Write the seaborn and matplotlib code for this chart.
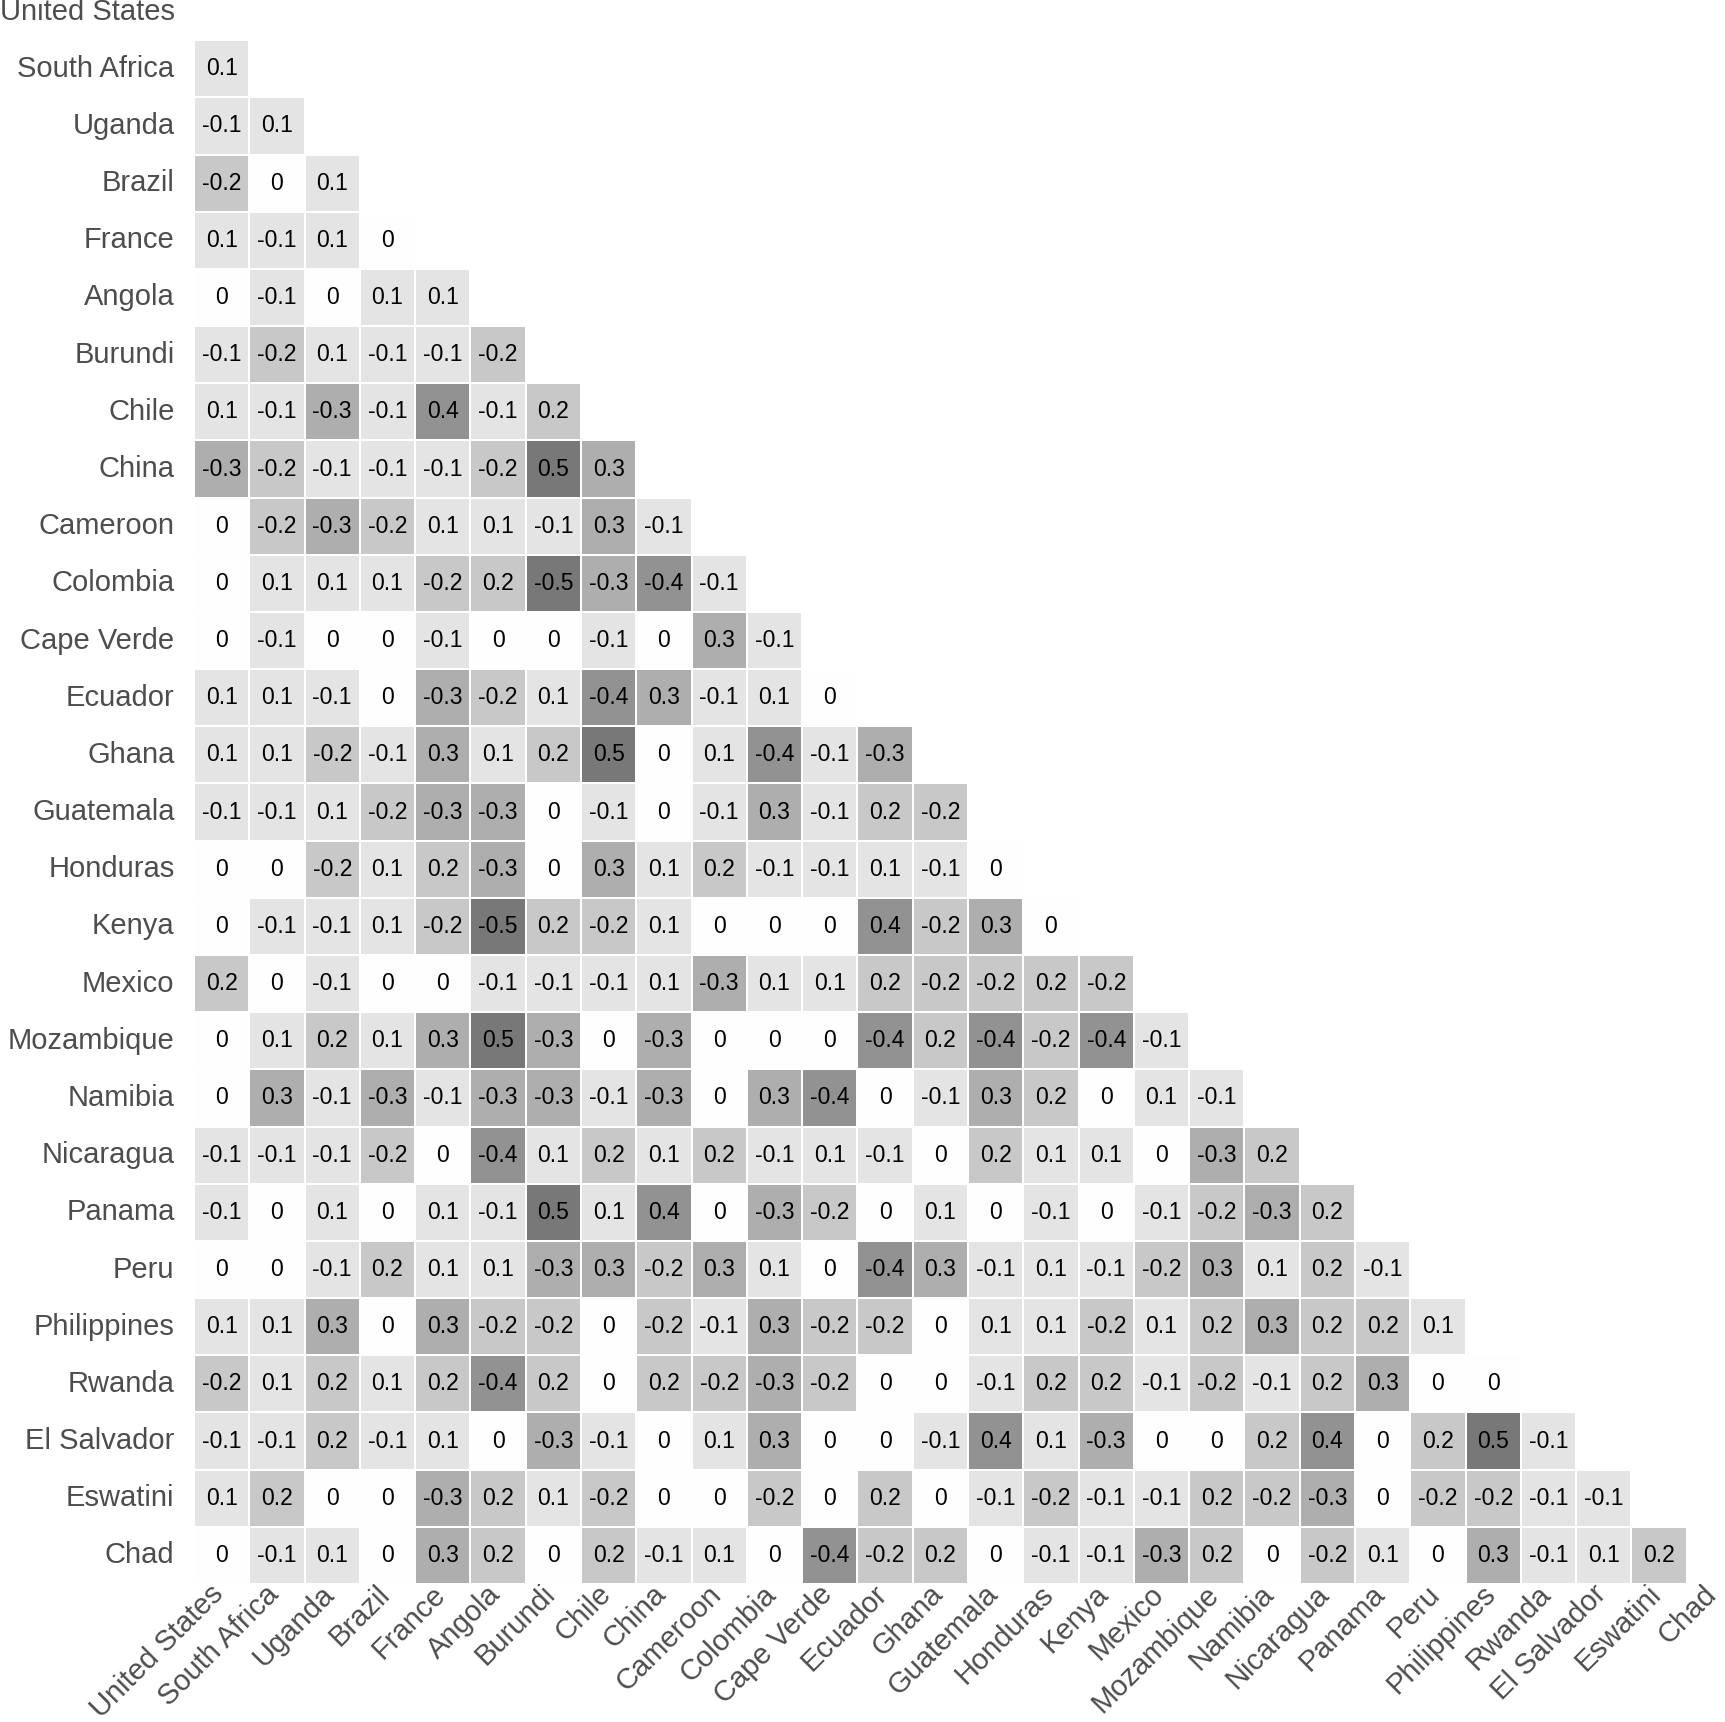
import matplotlib
matplotlib.use("Agg")
import matplotlib.pyplot as plt
import matplotlib.transforms as mtransforms
from matplotlib.colors import LinearSegmentedColormap
import seaborn as sns
import numpy as np
import pandas as pd

countries = ["United States", "South Africa", "Uganda", "Brazil", "France", "Angola",
             "Burundi", "Chile", "China", "Cameroon", "Colombia", "Cape Verde", "Ecuador",
             "Ghana", "Guatemala", "Honduras", "Kenya", "Mexico", "Mozambique", "Namibia",
             "Nicaragua", "Panama", "Peru", "Philippines", "Rwanda", "El Salvador",
             "Eswatini", "Chad"]

# lower triangle, one list per row (row i has values for columns 0..i-1)
lower_rows = [
    [],
    [0.1],
    [-0.1, 0.1],
    [-0.2, 0, 0.1],
    [0.1, -0.1, 0.1, 0],
    [0, -0.1, 0, 0.1, 0.1],
    [-0.1, -0.2, 0.1, -0.1, -0.1, -0.2],
    [0.1, -0.1, -0.3, -0.1, 0.4, -0.1, 0.2],
    [-0.3, -0.2, -0.1, -0.1, -0.1, -0.2, 0.5, 0.3],
    [0, -0.2, -0.3, -0.2, 0.1, 0.1, -0.1, 0.3, -0.1],
    [0, 0.1, 0.1, 0.1, -0.2, 0.2, -0.5, -0.3, -0.4, -0.1],
    [0, -0.1, 0, 0, -0.1, 0, 0, -0.1, 0, 0.3, -0.1],
    [0.1, 0.1, -0.1, 0, -0.3, -0.2, 0.1, -0.4, 0.3, -0.1, 0.1, 0],
    [0.1, 0.1, -0.2, -0.1, 0.3, 0.1, 0.2, 0.5, 0, 0.1, -0.4, -0.1, -0.3],
    [-0.1, -0.1, 0.1, -0.2, -0.3, -0.3, 0, -0.1, 0, -0.1, 0.3, -0.1, 0.2, -0.2],
    [0, 0, -0.2, 0.1, 0.2, -0.3, 0, 0.3, 0.1, 0.2, -0.1, -0.1, 0.1, -0.1, 0],
    [0, -0.1, -0.1, 0.1, -0.2, -0.5, 0.2, -0.2, 0.1, 0, 0, 0, 0.4, -0.2, 0.3, 0],
    [0.2, 0, -0.1, 0, 0, -0.1, -0.1, -0.1, 0.1, -0.3, 0.1, 0.1, 0.2, -0.2, -0.2, 0.2, -0.2],
    [0, 0.1, 0.2, 0.1, 0.3, 0.5, -0.3, 0, -0.3, 0, 0, 0, -0.4, 0.2, -0.4, -0.2, -0.4, -0.1],
    [0, 0.3, -0.1, -0.3, -0.1, -0.3, -0.3, -0.1, -0.3, 0, 0.3, -0.4, 0, -0.1, 0.3, 0.2, 0,
     0.1, -0.1],
    [-0.1, -0.1, -0.1, -0.2, 0, -0.4, 0.1, 0.2, 0.1, 0.2, -0.1, 0.1, -0.1, 0, 0.2, 0.1, 0.1,
     0, -0.3, 0.2],
    [-0.1, 0, 0.1, 0, 0.1, -0.1, 0.5, 0.1, 0.4, 0, -0.3, -0.2, 0, 0.1, 0, -0.1, 0, -0.1,
     -0.2, -0.3, 0.2],
    [0, 0, -0.1, 0.2, 0.1, 0.1, -0.3, 0.3, -0.2, 0.3, 0.1, 0, -0.4, 0.3, -0.1, 0.1, -0.1,
     -0.2, 0.3, 0.1, 0.2, -0.1],
    [0.1, 0.1, 0.3, 0, 0.3, -0.2, -0.2, 0, -0.2, -0.1, 0.3, -0.2, -0.2, 0, 0.1, 0.1, -0.2,
     0.1, 0.2, 0.3, 0.2, 0.2, 0.1],
    [-0.2, 0.1, 0.2, 0.1, 0.2, -0.4, 0.2, 0, 0.2, -0.2, -0.3, -0.2, 0, 0, -0.1, 0.2, 0.2,
     -0.1, -0.2, -0.1, 0.2, 0.3, 0, 0],
    [-0.1, -0.1, 0.2, -0.1, 0.1, 0, -0.3, -0.1, 0, 0.1, 0.3, 0, 0, -0.1, 0.4, 0.1, -0.3, 0,
     0, 0.2, 0.4, 0, 0.2, 0.5, -0.1],
    [0.1, 0.2, 0, 0, -0.3, 0.2, 0.1, -0.2, 0, 0, -0.2, 0, 0.2, 0, -0.1, -0.2, -0.1, -0.1,
     0.2, -0.2, -0.3, 0, -0.2, -0.2, -0.1, -0.1],
    [0, -0.1, 0.1, 0, 0.3, 0.2, 0, 0.2, -0.1, 0.1, 0, -0.4, -0.2, 0.2, 0, -0.1, -0.1, -0.3,
     0.2, 0, -0.2, 0.1, 0, 0.3, -0.1, 0.1, 0.2],
]

n = len(countries)
mat = np.full((n, n), np.nan)
for i, row in enumerate(lower_rows):
    mat[i, :len(row)] = row
corr = pd.DataFrame(mat, index=countries, columns=countries)
mask = np.triu(np.ones((n, n), dtype=bool))
labels = np.vectorize(lambda v: "" if np.isnan(v) else f"{v:g}")(mat)

sns.set_theme(style="white")
plt.rcParams['font.family'] = ['Liberation Sans', 'DejaVu Sans']

cmap = LinearSegmentedColormap.from_list("grey_abs", ["#787878", "#ffffff", "#787878"])

fig = plt.figure(figsize=(17.25, 17.22), dpi=100)
ax = fig.add_axes([194 / 1725, 138 / 1722, 1548 / 1725, 1601 / 1722])
sns.heatmap(corr, mask=mask, cmap=cmap, vmin=-0.5, vmax=0.5, annot=labels, fmt="",
            annot_kws={"size": 16.5, "color": "black"}, linewidths=1.2, linecolor="white",
            cbar=False, square=False, ax=ax)

ax.tick_params(axis="both", length=0, labelsize=21, labelcolor="#4d4d4d")
ax.tick_params(axis="y", pad=14)
ax.tick_params(axis="x", pad=0)
plt.setp(ax.get_yticklabels(), rotation=0)
offset = mtransforms.ScaledTranslation(-12 / 100, 4 / 100, fig.dpi_scale_trans)
for lab in ax.get_xticklabels():
    lab.set_rotation(45)
    lab.set_ha("right")
    lab.set_va("top")
    lab.set_rotation_mode("anchor")
    lab.set_transform(lab.get_transform() + offset)
ax.set_xlabel("")
ax.set_ylabel("")

fig.savefig("out.png", dpi=100)
